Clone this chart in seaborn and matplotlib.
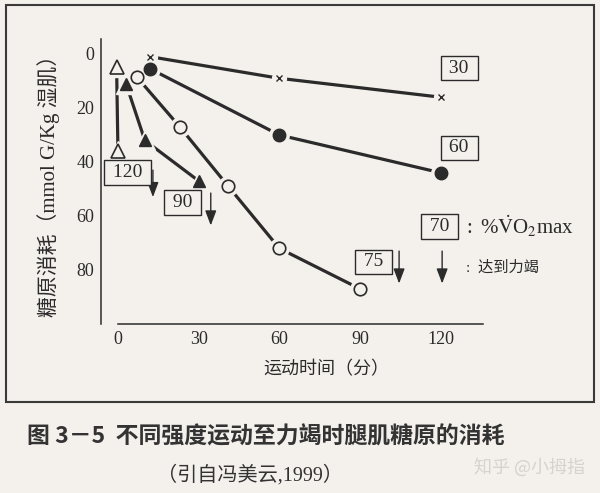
import matplotlib
matplotlib.use("Agg")
import matplotlib.pyplot as plt
from matplotlib.patches import Rectangle
import seaborn as sns

# 数据：不同强度(%VO2max)下的糖原消耗
t30 = [12, 60, 120]
g30 = [1, 9, 16]
t60 = [12, 60, 120]
g60 = [5.5, 30, 44]
t75 = [7, 23, 41, 60, 90]
g75 = [8.5, 27, 49, 72, 87]
t90 = [3, 10, 30]
g90 = [11, 32, 47]
t120 = [-0.5, 0]
g120 = [5, 36]

# 力竭时间（箭头）
exh_t = [13, 34.5, 104.5]
exh_y0 = [43, 51.5, 73]
exh_y1 = [53, 63.5, 85]

xticks = [0, 30, 60, 90, 120]
yticks = [0, 20, 40, 60, 80]

bg = "#f4f0ec"
ink = "#2b2b2b"

sns.set_theme(style="white")
plt.rcParams["font.family"] = ["Liberation Serif", "Noto Sans CJK SC"]
plt.rcParams["mathtext.fontset"] = "stix"
plt.rcParams["text.color"] = ink

fig = plt.figure(figsize=(6, 4.93), dpi=100, facecolor=bg)
ax = fig.add_axes([101 / 600, (493 - 324) / 493, 393.6 / 600, 286.2 / 493])
ax.set_facecolor(bg)

series = [
    (t30, g30, "x", ink, 5, 1.0),
    (t60, g60, "o", ink, 9, 1.0),
    (t75, g75, "o", bg, 9, 1.2),
    (t90, g90, "^", ink, 9, 1.0),
    (t120, g120, "^", bg, 10, 1.2),
]

for t, g, m, fc, ms, mew in series:
    sns.lineplot(x=t, y=g, ax=ax, color=ink, linewidth=2.3,
                 estimator=None, sort=False, zorder=2)
    # 标记周围留白
    ax.plot(t, g, linestyle="none", marker="o" if m != "^" else "^",
            ms=ms + 5, color=bg, mec=bg, zorder=3)
    ax.plot(t, g, linestyle="none", marker=m, ms=ms, mfc=fc,
            mec=ink, mew=mew, zorder=4)

ax.set_xlim(-6.3, 140)
ax.set_ylim(100, -6)
ax.set_xticks(xticks)
ax.set_yticks(yticks)
ax.tick_params(direction="in", length=6.5, width=1.1, color=ink,
               labelsize=13, labelcolor=ink, pad=5)
for s in ["top", "right"]:
    ax.spines[s].set_visible(False)
for s in ["left", "bottom"]:
    ax.spines[s].set_color(ink)
    ax.spines[s].set_linewidth(1.1)
ax.spines["left"].set_bounds(-5.5, 100)
ax.spines["bottom"].set_bounds(0, 135.7)

ax.set_ylabel("糖原消耗（mmol G/Kg 湿肌）", fontsize=15, color=ink)
ax.yaxis.set_label_coords(-0.105, 0.5)
ax.set_xlabel("运动时间（分）", fontsize=13, color=ink)
ax.xaxis.set_label_coords(0.572, -0.13)

# 强度标签
box = dict(boxstyle="square,pad=0.2", fc=bg, ec=ink, lw=1.0)
labels = [("30", 126.8, 5.2), ("60", 126.8, 34.8), ("120", 3.5, 44),
          ("90", 24, 55), ("75", 95, 77), ("70", 119.6, 64)]
for txt, x, y in labels:
    ax.text(x, y, " " + txt + " ", fontsize=14, ha="center", va="center",
            bbox=box, zorder=5)

arrow = dict(arrowstyle="-|>,head_length=0.45,head_width=0.17", color=ink,
             lw=1.0, mutation_scale=20, shrinkA=0, shrinkB=0)
for x, y0, y1 in zip(exh_t + [120.5], exh_y0 + [73], exh_y1 + [85]):
    ax.annotate("", xy=(x, y1), xytext=(x, y0), arrowprops=arrow)

ax.text(129.5, 64.5, ":", fontsize=15, ha="left", va="center")
ax.text(134.5, 64, "%$\\dot{\\mathrm{V}}$O$_2$max", fontsize=15,
        ha="left", va="center")
ax.text(129.5, 79, ":  达到力竭", fontsize=11, ha="left", va="center")

# 外框
fig.add_artist(Rectangle((6 / 600, (493 - 402) / 493), 588 / 600, 397 / 493,
                         transform=fig.transFigure, fill=False, lw=1.5,
                         ec="#3a3a3a"))

fig.text(0.045, 1 - 437 / 493, "图 3－5  不同强度运动至力竭时腿肌糖原的消耗",
         family=["Noto Sans CJK SC"], fontweight="bold", fontsize=16.5,
         ha="left", va="center", color="#333333")
fig.text(250 / 600, 1 - 475 / 493, "（引自冯美云,1999）", fontsize=14.5,
         ha="center", va="center", color="#333333")
fig.text(585 / 600, 1 - 467 / 493, "知乎 @小拇指", family=["Noto Sans CJK SC"],
         fontsize=13, ha="right", va="center", color="#d6d2ce")

fig.savefig("out.png", dpi=100, facecolor=bg)
